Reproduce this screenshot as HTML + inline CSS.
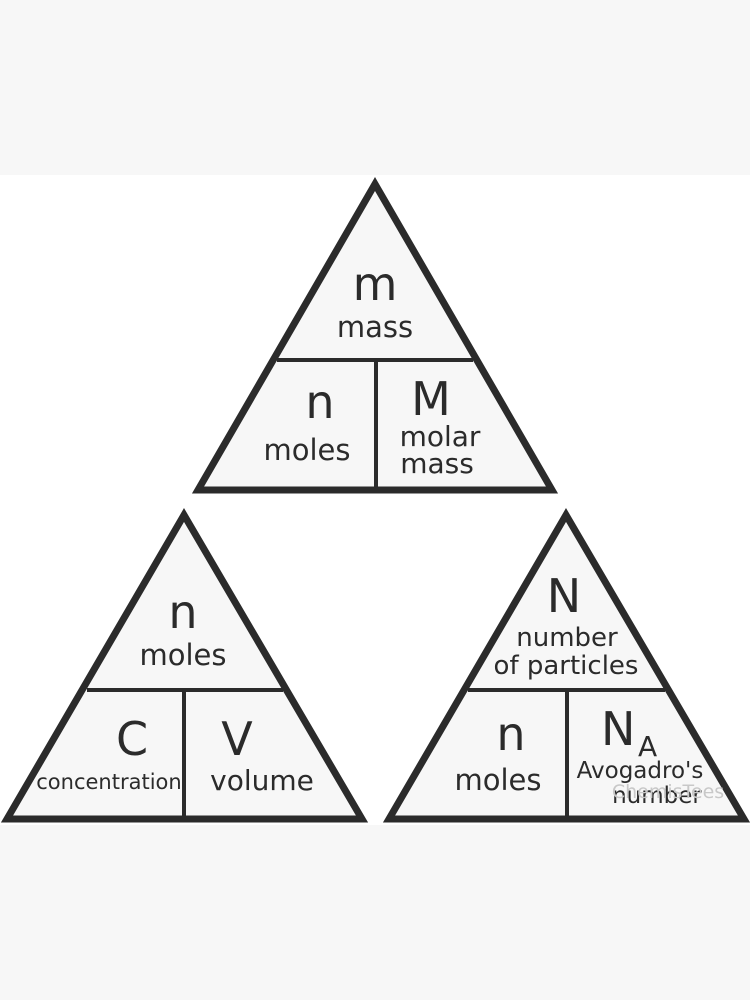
<!DOCTYPE html>
<html><head><style>
html,body{margin:0;padding:0;background:#f7f7f7;}
svg{display:block;}
text{font-family:"DejaVu Sans","Liberation Sans",sans-serif;fill:#2b2b2b;}
</style></head><body>
<svg width="750" height="1000" viewBox="0 0 750 1000" xmlns="http://www.w3.org/2000/svg">
<rect x="0" y="0" width="750" height="1000" fill="#f7f7f7"/>
<rect x="0" y="175" width="750" height="650" fill="#ffffff"/>
<g fill="#f7f7f7" stroke="#2b2b2b" stroke-width="7" stroke-linejoin="miter">
<polygon points="375,184 198,490 552,490"/>
<polygon points="184,515 7,819 362,819"/>
<polygon points="566,515 389,819 744,819"/>
</g>
<g stroke="#2b2b2b" stroke-width="4">
<line x1="277" y1="360" x2="473" y2="360"/>
<line x1="376" y1="360" x2="376" y2="490"/>
<line x1="87" y1="690" x2="283" y2="690"/>
<line x1="184" y1="690" x2="184" y2="819"/>
<line x1="468" y1="690" x2="665" y2="690"/>
<line x1="567" y1="690" x2="567" y2="819"/>
</g>
<g text-anchor="middle">
<text x="375" y="300" font-size="46">m</text>
<text x="375" y="337" font-size="29">mass</text>
<text x="320" y="418" font-size="46">n</text>
<text x="307" y="460" font-size="29">moles</text>
<text x="431" y="415" font-size="46">M</text>
<text x="440" y="446" font-size="28">molar</text>
<text x="437" y="473" font-size="28">mass</text>

<text x="183" y="628" font-size="46">n</text>
<text x="183" y="665" font-size="29">moles</text>
<text x="132" y="755" font-size="46">C</text>
<text x="109" y="789" font-size="21">concentration</text>
<text x="237" y="755" font-size="46">V</text>
<text x="262" y="790" font-size="28">volume</text>

<text x="564" y="612" font-size="46">N</text>
<text x="567" y="646" font-size="26">number</text>
<text x="566" y="674" font-size="26">of particles</text>
<text x="511" y="750" font-size="46">n</text>
<text x="498" y="790" font-size="29">moles</text>
<text x="640" y="778" font-size="23">Avogadro's</text>
<text x="657" y="803" font-size="23">number</text>
<text x="668" y="798" font-size="19" style="fill:#c8c8c8">ChemisTees</text>
</g>
<text x="601" y="745" font-size="46">N</text>
<text x="638" y="756" font-size="28">A</text>
</svg>
</body></html>
